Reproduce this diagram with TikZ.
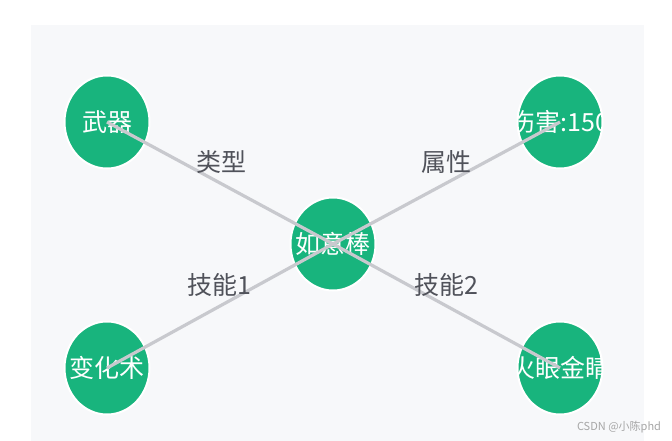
\documentclass[tikz,border=0pt]{standalone}
\usepackage{fontspec}
\newfontfamily\cjk{Noto Sans CJK SC}
\usetikzlibrary{shapes.geometric}
\definecolor{nodegreen}{RGB}{24,180,125}
\definecolor{edgegray}{RGB}{200,201,206}
\definecolor{labelgray}{RGB}{80,82,90}
\definecolor{bggray}{RGB}{247,248,250}

\begin{document}
\begin{tikzpicture}[x=1pt,y=-1pt,
    ent/.style={ellipse, fill=nodegreen, draw=white, line width=2pt,
        minimum width=85pt, minimum height=93pt, inner sep=0pt,
        path picture={\node[text=white, font=\cjk\fontsize{25}{25}\selectfont]
            at (path picture bounding box.center) {#1};}},
    rel/.style={draw=edgegray, line width=3.2pt},
    lbl/.style={text=labelgray, font=\cjk\fontsize{25}{25}\selectfont}]

                \useasboundingbox (0,0) rectangle (672,441);
                % Background
                \fill[bggray] (31,25) rectangle (644,441);

                % Entities
                \node[ent=如意棒] (ruyi) at (333,244) {};
                \node[ent=武器] (wuqi) at (107,122) {};
                \node[ent=伤害:150] (shanghai) at (560,122) {};
                \node[ent=变化术] (bianhua) at (107,368) {};
                \node[ent=火眼金睛] (huoyan) at (560,368) {};

                % Relations
                \draw[rel] (wuqi.center) -- (ruyi.center);
                \draw[rel] (shanghai.center) -- (ruyi.center);
                \draw[rel] (bianhua.center) -- (ruyi.center);
                \draw[rel] (huoyan.center) -- (ruyi.center);

                % Relation labels
                \node[lbl] (leixing) at (221,162) {类型};
                \node[lbl] (shuxing) at (446,162) {属性};
                \node[lbl] (jineng1) at (219,285) {技能1};
                \node[lbl] (jineng2) at (446,285) {技能2};

                % Watermark
                \node[text=gray!70, font=\cjk\fontsize{11}{11}\selectfont] (mark) at (619,427) {CSDN @小陈phd};

            \end{tikzpicture}
\end{document}
